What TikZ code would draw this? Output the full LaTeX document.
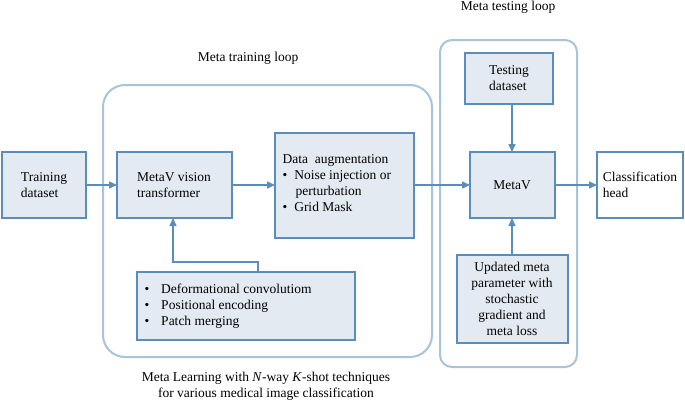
\documentclass[tikz,border=0pt]{standalone}
\usepackage{fontspec}
\setmainfont{Liberation Serif}
\usetikzlibrary{arrows.meta}
\definecolor{bfill}{HTML}{E4EAF1}
\definecolor{bline}{HTML}{5A8DBA}
\definecolor{lline}{HTML}{A8C3DA}
\begin{document}
\begin{tikzpicture}[x=1pt,y=-1pt,font=\fontsize{13.5}{16}\selectfont,
  box/.style={draw=bline,line width=2pt,fill=bfill,inner sep=0pt},
  loop/.style={draw=lline,line width=2pt,rounded corners=22pt},
  arr/.style={draw=bline,line width=1.5pt,-{Triangle[length=8pt,width=7pt]}}]
\useasboundingbox (0,0) rectangle (685,402);
% outer loops
\draw[loop] (103,85) rectangle (432,357);
\draw[loop,rounded corners=12pt] (440,40) rectangle (577,367);
\node at (248,58) {Meta training loop};
\node at (508,7) {Meta testing loop};
% boxes
\draw[box] (2,152) rectangle (86,218);
\node[align=left] (td) at (44,185) {Training\\dataset};
\draw[box] (117,152) rectangle (232,218);
\node[align=left] (mv) at (174,185) {MetaV vision\\transformer};
\draw[box] (275,133) rectangle (414,238);
\node[align=left,anchor=north west] (da) at (279,151) {Data \ augmentation\\
  \textbullet\hspace{7pt}Noise injection or\\ \hspace{13pt}perturbation\\
  \textbullet\hspace{7pt}Grid Mask};
\draw[box] (137,272) rectangle (355,340);
\node[align=left,anchor=north west] (bl) at (141,280) {\textbullet\hspace{12pt}Deformational convolutiom\\
  \textbullet\hspace{12pt}Positional encoding\\
  \textbullet\hspace{12pt}Patch merging};
\draw[box] (465,53) rectangle (553,104);
\node[align=left] (ts) at (509,78) {Testing\\dataset};
\draw[box] (470,152) rectangle (555,218);
\node (m) at (512,185) {MetaV};
\draw[box] (457,255) rectangle (568,343);
\node[align=center] (up) at (512,299) {Updated meta\\parameter with\\stochastic\\gradient and\\meta loss};
\draw[draw=bline,line width=2pt,fill=white] (597,152) rectangle (683,218);
\node[align=left] (ch) at (640,185) {Classification\\head};
% arrows
\coordinate (a1) at (86,185); \coordinate (a2) at (117,185);
\coordinate (b1) at (232,185); \coordinate (b2) at (275,185);
\coordinate (c1) at (414,185); \coordinate (c2) at (470,185);
\coordinate (d1) at (555,185); \coordinate (d2) at (597,185);
\coordinate (e1) at (512,104); \coordinate (e2) at (512,152);
\coordinate (f1) at (512,255); \coordinate (f2) at (512,218);
\coordinate (g1) at (258,272); \coordinate (g2) at (173,218);
\draw[arr] (a1) -- (a2);
\draw[arr] (b1) -- (b2);
\draw[arr] (c1) -- (c2);
\draw[arr] (d1) -- (d2);
\draw[arr] (e1) -- (e2);
\draw[arr] (f1) -- (f2);
\draw[arr] (g1) -- (258,262) -| (g2);
% caption
\node[align=center] at (266,386) {Meta Learning with \textit{N}-way \textit{K}-shot techniques\\for various medical image classification};
\end{tikzpicture}
\end{document}
